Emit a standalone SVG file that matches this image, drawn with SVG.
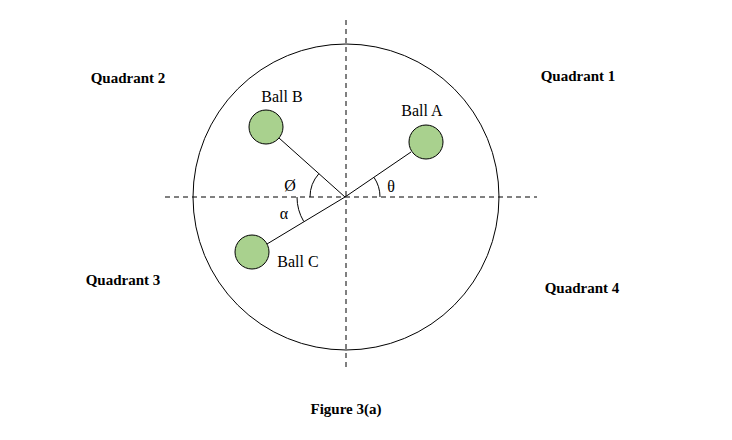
<svg xmlns="http://www.w3.org/2000/svg" width="732" height="440" viewBox="0 0 732 440">
<style>
text{font-family:"Liberation Serif","Times New Roman",serif;fill:#000}
.q{font-size:15px;font-weight:bold}
.l{font-size:16px}
.ball{fill:#a9d18e;stroke:#000;stroke-width:1}
.ln{stroke:#000;stroke-width:1;fill:none}
.d{stroke:#000;stroke-width:1;stroke-dasharray:5,4;fill:none}
</style>
<rect width="732" height="440" fill="#fff"/>
<circle cx="346" cy="197" r="153" class="ln"/>
<g id="connectors">
<line x1="165" y1="197" x2="537" y2="197" class="d"/>
<line x1="346" y1="20" x2="346" y2="368" class="d"/>
<line x1="345" y1="197" x2="279" y2="138" class="ln"/>
<line x1="345" y1="197" x2="411" y2="152" class="ln"/>
<line x1="345" y1="197" x2="267" y2="244" class="ln"/>
<path d="M380,197 A35,35 0 0 0 374,177.4" class="ln"/>
<path d="M310,197 A35,35 0 0 1 318.8,173.8" class="ln"/>
<path d="M297,197 A48,48 0 0 0 303.7,221.4" class="ln"/>
</g>
<g id="ballB"><circle cx="266" cy="127" r="17" class="ball"/><text x="282" y="102" class="l" text-anchor="middle">Ball B</text></g>
<g id="ballA"><circle cx="426" cy="142" r="17" class="ball"/><text x="422" y="116" class="l" text-anchor="middle">Ball A</text></g>
<g id="ballC"><circle cx="252" cy="252" r="17" class="ball"/><text x="298" y="267" class="l" text-anchor="middle">Ball C</text></g>
<text x="290" y="191" class="l" text-anchor="middle">Ø</text>
<text x="391" y="192" class="l" text-anchor="middle">θ</text>
<text x="284" y="219" class="l" text-anchor="middle">α</text>
<text x="128" y="83" class="q" text-anchor="middle">Quadrant 2</text>
<text x="578" y="81" class="q" text-anchor="middle">Quadrant 1</text>
<text x="123" y="285" class="q" text-anchor="middle">Quadrant 3</text>
<text x="582" y="293" class="q" text-anchor="middle">Quadrant 4</text>
<text x="346" y="414" class="q" text-anchor="middle">Figure 3(a)</text>
</svg>
